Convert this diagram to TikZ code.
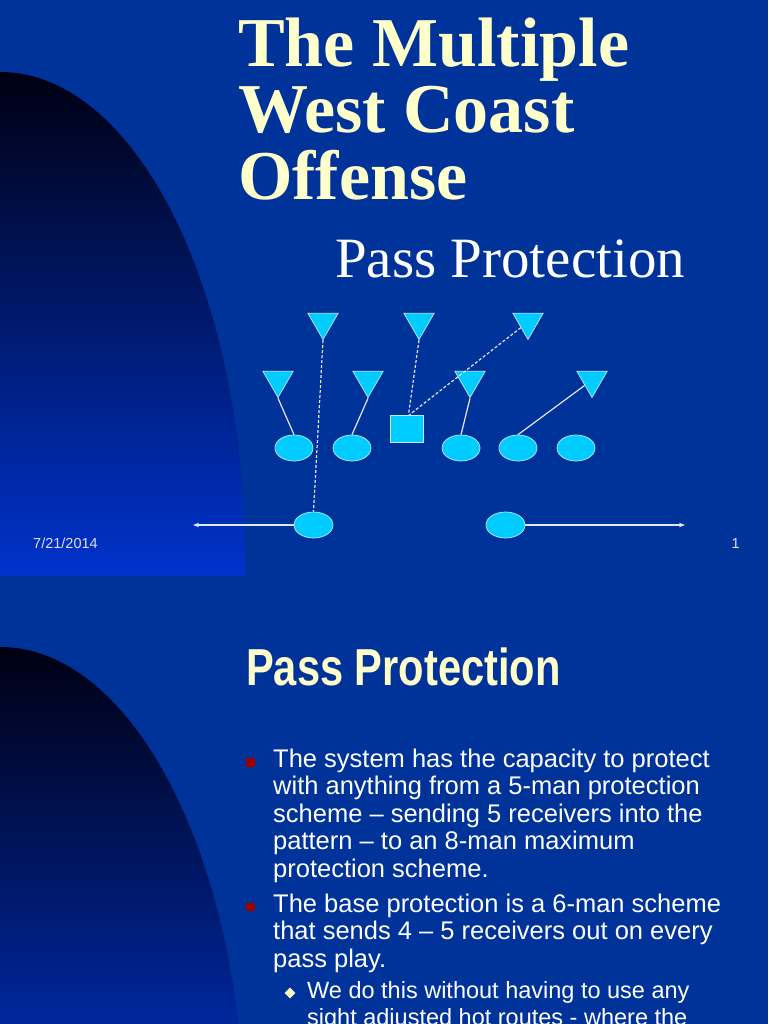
\documentclass[tikz,border=0pt]{standalone}
\usepackage{fontspec}
\setmainfont{Liberation Serif}
\newfontfamily\arialfont{Liberation Sans}
\newfontfamily\narrowfont[FakeStretch=0.8]{Liberation Sans}
\usetikzlibrary{shapes.geometric,arrows.meta}
\definecolor{bgblue}{RGB}{0,51,153}
\definecolor{shtop}{RGB}{0,0,18}
\definecolor{shmid}{RGB}{0,34,138}
\definecolor{shbot}{RGB}{0,51,204}
\definecolor{cream}{RGB}{255,255,204}
\definecolor{player}{RGB}{0,204,255}
\definecolor{rim}{RGB}{190,235,255}
\definecolor{route}{RGB}{225,230,240}
\definecolor{bulletred}{RGB}{153,0,0}
\definecolor{footgray}{RGB}{225,225,235}
\tikzset{
  defender/.style={regular polygon, regular polygon sides=3, shape border rotate=180,
    minimum size=35, inner sep=0pt, fill=player, draw=rim, line width=0.7pt},
  lineman/.style={ellipse, minimum width=38, minimum height=26, inner sep=0pt,
    fill=player, draw=rim, line width=0.7pt},
  centerbox/.style={rectangle, minimum width=33, minimum height=27, inner sep=0pt,
    fill=player, draw=rim, line width=0.7pt},
  block/.style={draw=route, line width=1.2pt},
  dashblock/.style={draw=route, line width=1.2pt, dash pattern=on 3pt off 2pt},
  runarrow/.style={draw=route, line width=1.4pt, -{Stealth[length=6pt,width=4.5pt]}},
  titletext/.style={anchor=base west, inner sep=0pt, text=cream, font=\bfseries\fontsize{70}{70}\selectfont},
  bodytext/.style={anchor=base west, inner sep=0pt, text=white, font=\arialfont\fontsize{25.5}{27}\selectfont},
  subtext/.style={anchor=base west, inner sep=0pt, text=white, font=\arialfont\fontsize{23.5}{26}\selectfont},
  foot/.style={inner sep=0pt, text=footgray, font=\arialfont\fontsize{14.5}{15}\selectfont},
  sqbullet/.style={rectangle, minimum size=8.5, inner sep=0pt, fill=bulletred},
  dmbullet/.style={diamond, minimum size=11, inner sep=0pt, fill=cream}
}
\begin{document}
\begin{tikzpicture}[x=1pt,y=-1pt]
\useasboundingbox (0,0) rectangle (768,1024);
\clip (0,0) rectangle (768,1024);
\fill[bgblue] (0,0) rectangle (768,1024);
% decorative gradient shapes
\shade[top color=shtop, middle color=shmid, bottom color=shbot]
  (0,72) arc[start angle=-90, end angle=0, x radius=245, y radius=488]
  -- (245,576) -- (0,576) -- cycle;
\shade[top color=shtop, middle color=shmid, bottom color=shbot]
  (0,647) arc[start angle=-90, end angle=0, x radius=245, y radius=488]
  -- (245,1151) -- (0,1151) -- cycle;

% ---------- slide 1 ----------
\node[titletext] (t1) at (238,67) {The Multiple};
\node[titletext] (t2) at (238,133) {West Coast};
\node[titletext] (t3) at (238,200) {Offense};
\node[anchor=base west, inner sep=0pt, text=white, font=\fontsize{57}{57}\selectfont] (sub) at (335,277) {Pass Protection};

% defenders
\node[defender] (d1) at (323,322) {};
\node[defender] (d2) at (419,322) {};
\node[defender] (d3) at (528,322) {};
\node[defender] (d4) at (278,380) {};
\node[defender] (d5) at (368,380) {};
\node[defender] (d6) at (470,380) {};
\node[defender] (d7) at (592,380) {};
% offense
\node[lineman] (e1) at (294,448) {};
\node[lineman] (e2) at (352,448) {};
\node[centerbox] (c) at (406.5,428.5) {};
\node[lineman] (e3) at (461,448) {};
\node[lineman] (e4) at (518,448) {};
\node[lineman] (e5) at (576,448) {};
\node[lineman, minimum width=39] (b1) at (313.5,525) {};
\node[lineman, minimum width=39] (b2) at (505.5,525) {};
\coordinate (lend) at (193,525);
\coordinate (rend) at (685,525);

% blocks
\draw[block] (d4.south) -- (e1.north);
\draw[block] (d5.south) -- (e2.north);
\draw[block] (d6.south) -- (e3.north);
\draw[block] (d7) -- (e4.north);
\draw[dashblock] (d1.south) -- (b1.north);
\draw[dashblock] (d2.south) -- ([xshift=2]c.north);
\draw[dashblock] (d3) -- ([xshift=3]c.north);
\draw[runarrow] (b1.west) -- (lend);
\draw[runarrow] (b2.east) -- (rend);

\node[foot, anchor=base west] (date) at (33,548) {7/21/2014};
\node[foot, anchor=base east] (pg) at (740,548) {1};

% ---------- slide 2 ----------
\node[anchor=base west, inner sep=0pt, text=cream, font=\narrowfont\bfseries\fontsize{52}{52}\selectfont] (h2) at (246,685) {Pass Protection};

\node[sqbullet] (sb1) at (250.5,762.5) {};
\node[bodytext] (l1) at (273,767) {The system has the capacity to protect};
\node[bodytext] (l2) at (273,794.5) {with anything from a 5-man protection};
\node[bodytext] (l3) at (273,822) {scheme – sending 5 receivers into the};
\node[bodytext] (l4) at (273,849.5) {pattern – to an 8-man maximum};
\node[bodytext] (l5) at (273,877) {protection scheme.};

\node[sqbullet] (sb2) at (250.5,907) {};
\node[bodytext] (m1) at (273,912) {The base protection is a 6-man scheme};
\node[bodytext] (m2) at (273,939.5) {that sends 4 – 5 receivers out on every};
\node[bodytext] (m3) at (273,967) {pass play.};

\node[dmbullet] (db) at (290,993) {};
\node[subtext] (n1) at (307,998) {We do this without having to use any};
\node[subtext] (n2) at (307,1025.5) {sight adjusted hot routes - where the};
\end{tikzpicture}
\end{document}
